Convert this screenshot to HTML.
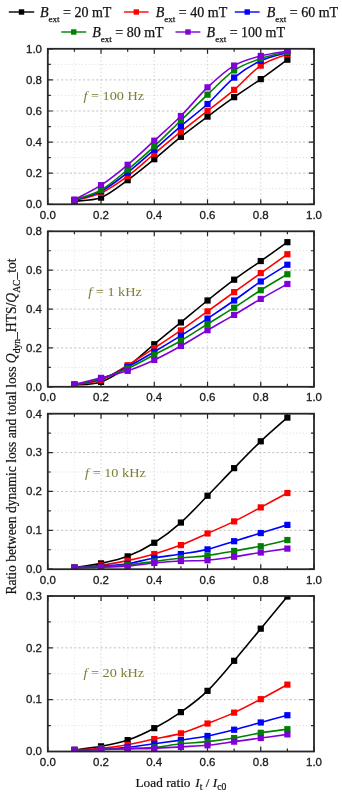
<!DOCTYPE html>
<html><head><meta charset="utf-8"><title>Ratio between dynamic loss and total loss</title>
<style>
html,body{margin:0;padding:0;background:#fff;}
body{width:342px;height:793px;overflow:hidden;}
svg{display:block;}
.gM{stroke:#b4b4b4;stroke-width:0.8;stroke-dasharray:2.2 2.2;}
.gm{stroke:#d2d2d2;stroke-width:0.7;stroke-dasharray:1.2 2.2;}
.vM{stroke:#c4c4c4;stroke-width:0.7;stroke-dasharray:1.6 2.2;}
.vm{stroke:#dadada;stroke-width:0.6;stroke-dasharray:1.2 2.2;}
.cv{fill:none;stroke-width:1.6;}
.tk{fill:none;stroke:#262626;stroke-width:1.2;}
.fr{fill:none;stroke:#262626;stroke-width:1.8;}
.yl{font-family:"Liberation Sans",Arial,sans-serif;font-size:11.5px;text-anchor:end;fill:#1a1a1a;stroke:#1a1a1a;stroke-width:0.3;}
.xl{font-family:"Liberation Sans",Arial,sans-serif;font-size:11.5px;text-anchor:middle;fill:#1a1a1a;stroke:#1a1a1a;stroke-width:0.3;}
.fl{font-family:"Liberation Serif","Times New Roman",serif;font-size:12.5px;fill:#7d7d35;}
.lg{font-family:"Liberation Serif","Times New Roman",serif;font-size:14px;fill:#111;stroke:#111;stroke-width:0.25;}
.ax{font-family:"Liberation Serif","Times New Roman",serif;font-size:13.3px;fill:#111;stroke:#111;stroke-width:0.2;}
</style></head>
<body>
<svg width="342" height="793" viewBox="0 0 342 793">
<line x1="47.8" y1="188.75" x2="314" y2="188.75" class="gm"/>
<line x1="47.8" y1="173.2" x2="314" y2="173.2" class="gM"/>
<line x1="47.8" y1="157.65" x2="314" y2="157.65" class="gm"/>
<line x1="47.8" y1="142.1" x2="314" y2="142.1" class="gM"/>
<line x1="47.8" y1="126.55" x2="314" y2="126.55" class="gm"/>
<line x1="47.8" y1="111" x2="314" y2="111" class="gM"/>
<line x1="47.8" y1="95.45" x2="314" y2="95.45" class="gm"/>
<line x1="47.8" y1="79.9" x2="314" y2="79.9" class="gM"/>
<line x1="47.8" y1="64.35" x2="314" y2="64.35" class="gm"/>
<line x1="74.42" y1="48.8" x2="74.42" y2="204.3" class="vm"/>
<line x1="101.04" y1="48.8" x2="101.04" y2="204.3" class="vM"/>
<line x1="127.66" y1="48.8" x2="127.66" y2="204.3" class="vm"/>
<line x1="154.28" y1="48.8" x2="154.28" y2="204.3" class="vM"/>
<line x1="180.9" y1="48.8" x2="180.9" y2="204.3" class="vm"/>
<line x1="207.52" y1="48.8" x2="207.52" y2="204.3" class="vM"/>
<line x1="234.14" y1="48.8" x2="234.14" y2="204.3" class="vm"/>
<line x1="260.76" y1="48.8" x2="260.76" y2="204.3" class="vM"/>
<line x1="287.38" y1="48.8" x2="287.38" y2="204.3" class="vm"/>
<text transform="translate(83.5 100.3) scale(1.14 1)" class="fl"><tspan font-style="italic">f</tspan> = 100 Hz</text>
<path d="M47.8 204.3v-5M47.8 48.8v5M74.42 204.3v-3M74.42 48.8v3M101.04 204.3v-5M101.04 48.8v5M127.66 204.3v-3M127.66 48.8v3M154.28 204.3v-5M154.28 48.8v5M180.9 204.3v-3M180.9 48.8v3M207.52 204.3v-5M207.52 48.8v5M234.14 204.3v-3M234.14 48.8v3M260.76 204.3v-5M260.76 48.8v5M287.38 204.3v-3M287.38 48.8v3M314 204.3v-5M314 48.8v5M47.8 204.3h5M314 204.3h-5M47.8 188.75h3M314 188.75h-3M47.8 173.2h5M314 173.2h-5M47.8 157.65h3M314 157.65h-3M47.8 142.1h5M314 142.1h-5M47.8 126.55h3M314 126.55h-3M47.8 111h5M314 111h-5M47.8 95.45h3M314 95.45h-3M47.8 79.9h5M314 79.9h-5M47.8 64.35h3M314 64.35h-3M47.8 48.8h5M314 48.8h-5" class="tk"/>
<clipPath id="c0"><rect x="47.8" y="48.8" width="266.2" height="155.5"/></clipPath><g clip-path="url(#c0)">
<path d="M74.42 201.19C78.86 200.59 92.17 201.11 101.04 197.61C109.91 194.11 118.79 186.6 127.66 180.2C136.53 173.8 145.41 166.44 154.28 159.21C163.15 151.97 172.03 143.91 180.9 136.81C189.77 129.71 198.65 123.21 207.52 116.6C216.39 109.99 225.27 103.41 234.14 97.16C243.01 90.91 251.89 85.37 260.76 79.12C269.63 72.88 282.94 62.92 287.38 59.69" stroke="#000000" class="cv"/>
<g fill="#000000"><rect x="71.32" y="198.09" width="6.2" height="6.2"/><rect x="97.94" y="194.51" width="6.2" height="6.2"/><rect x="124.56" y="177.1" width="6.2" height="6.2"/><rect x="151.18" y="156.11" width="6.2" height="6.2"/><rect x="177.8" y="133.71" width="6.2" height="6.2"/><rect x="204.42" y="113.5" width="6.2" height="6.2"/><rect x="231.04" y="94.06" width="6.2" height="6.2"/><rect x="257.66" y="76.02" width="6.2" height="6.2"/><rect x="284.28" y="56.59" width="6.2" height="6.2"/></g>
<path d="M74.42 200.41C78.86 199.17 92.17 196.99 101.04 192.95C109.91 188.91 118.79 182.69 127.66 176.15C136.53 169.62 145.41 161.17 154.28 153.76C163.15 146.35 172.03 138.83 180.9 131.68C189.77 124.53 198.65 117.82 207.52 110.84C216.39 103.87 225.27 97.39 234.14 89.85C243.01 82.31 251.89 71.53 260.76 65.59C269.63 59.66 282.94 56.13 287.38 54.24" stroke="#ff0000" class="cv"/>
<g fill="#ff0000"><rect x="71.32" y="197.31" width="6.2" height="6.2"/><rect x="97.94" y="189.85" width="6.2" height="6.2"/><rect x="124.56" y="173.05" width="6.2" height="6.2"/><rect x="151.18" y="150.66" width="6.2" height="6.2"/><rect x="177.8" y="128.58" width="6.2" height="6.2"/><rect x="204.42" y="107.74" width="6.2" height="6.2"/><rect x="231.04" y="86.75" width="6.2" height="6.2"/><rect x="257.66" y="62.49" width="6.2" height="6.2"/><rect x="284.28" y="51.14" width="6.2" height="6.2"/></g>
<path d="M74.42 200.1C78.86 198.62 92.17 195.83 101.04 191.24C109.91 186.65 118.79 179.5 127.66 172.58C136.53 165.66 145.41 157.47 154.28 149.72C163.15 141.97 172.03 133.7 180.9 126.08C189.77 118.46 198.65 112.09 207.52 104C216.39 95.92 225.27 84.77 234.14 77.57C243.01 70.36 251.89 64.92 260.76 60.77C269.63 56.63 282.94 54.04 287.38 52.69" stroke="#0000ff" class="cv"/>
<g fill="#0000ff"><rect x="71.32" y="197" width="6.2" height="6.2"/><rect x="97.94" y="188.14" width="6.2" height="6.2"/><rect x="124.56" y="169.48" width="6.2" height="6.2"/><rect x="151.18" y="146.62" width="6.2" height="6.2"/><rect x="177.8" y="122.98" width="6.2" height="6.2"/><rect x="204.42" y="100.9" width="6.2" height="6.2"/><rect x="231.04" y="74.47" width="6.2" height="6.2"/><rect x="257.66" y="57.67" width="6.2" height="6.2"/><rect x="284.28" y="49.59" width="6.2" height="6.2"/></g>
<path d="M74.42 199.95C78.86 198.29 92.17 195.05 101.04 189.99C109.91 184.94 118.79 176.91 127.66 169.62C136.53 162.34 145.41 154.49 154.28 146.3C163.15 138.11 172.03 129.09 180.9 120.49C189.77 111.88 198.65 103.02 207.52 94.67C216.39 86.33 225.27 76.43 234.14 70.41C243.01 64.4 251.89 61.68 260.76 58.6C269.63 55.51 282.94 53.02 287.38 51.91" stroke="#008000" class="cv"/>
<g fill="#008000"><rect x="71.32" y="196.85" width="6.2" height="6.2"/><rect x="97.94" y="186.89" width="6.2" height="6.2"/><rect x="124.56" y="166.52" width="6.2" height="6.2"/><rect x="151.18" y="143.2" width="6.2" height="6.2"/><rect x="177.8" y="117.39" width="6.2" height="6.2"/><rect x="204.42" y="91.57" width="6.2" height="6.2"/><rect x="231.04" y="67.31" width="6.2" height="6.2"/><rect x="257.66" y="55.5" width="6.2" height="6.2"/><rect x="284.28" y="48.81" width="6.2" height="6.2"/></g>
<path d="M74.42 199.64C78.86 197.22 92.17 190.98 101.04 185.17C109.91 179.37 118.79 172.22 127.66 164.8C136.53 157.39 145.41 148.84 154.28 140.7C163.15 132.56 172.03 124.87 180.9 115.98C189.77 107.09 198.65 95.76 207.52 87.36C216.39 78.97 225.27 70.83 234.14 65.59C243.01 60.36 251.89 58.36 260.76 55.95C269.63 53.54 282.94 51.94 287.38 51.13" stroke="#8000d8" class="cv"/>
<g fill="#8000d8"><rect x="71.32" y="196.54" width="6.2" height="6.2"/><rect x="97.94" y="182.07" width="6.2" height="6.2"/><rect x="124.56" y="161.7" width="6.2" height="6.2"/><rect x="151.18" y="137.6" width="6.2" height="6.2"/><rect x="177.8" y="112.88" width="6.2" height="6.2"/><rect x="204.42" y="84.26" width="6.2" height="6.2"/><rect x="231.04" y="62.49" width="6.2" height="6.2"/><rect x="257.66" y="52.85" width="6.2" height="6.2"/><rect x="284.28" y="48.03" width="6.2" height="6.2"/></g>
</g>
<rect x="47.8" y="48.8" width="266.2" height="155.5" class="fr"/>
<text x="42" y="208.1" class="yl">0.0</text>
<text x="42" y="177" class="yl">0.2</text>
<text x="42" y="145.9" class="yl">0.4</text>
<text x="42" y="114.8" class="yl">0.6</text>
<text x="42" y="83.7" class="yl">0.8</text>
<text x="42" y="52.6" class="yl">1.0</text>
<text x="47.8" y="218.9" class="xl">0.0</text>
<text x="101.04" y="218.9" class="xl">0.2</text>
<text x="154.28" y="218.9" class="xl">0.4</text>
<text x="207.52" y="218.9" class="xl">0.6</text>
<text x="260.76" y="218.9" class="xl">0.8</text>
<text x="314" y="218.9" class="xl">1.0</text>
<line x1="47.8" y1="367.36" x2="314" y2="367.36" class="gm"/>
<line x1="47.8" y1="347.93" x2="314" y2="347.93" class="gM"/>
<line x1="47.8" y1="328.49" x2="314" y2="328.49" class="gm"/>
<line x1="47.8" y1="309.05" x2="314" y2="309.05" class="gM"/>
<line x1="47.8" y1="289.61" x2="314" y2="289.61" class="gm"/>
<line x1="47.8" y1="270.18" x2="314" y2="270.18" class="gM"/>
<line x1="47.8" y1="250.74" x2="314" y2="250.74" class="gm"/>
<line x1="74.42" y1="231.3" x2="74.42" y2="386.8" class="vm"/>
<line x1="101.04" y1="231.3" x2="101.04" y2="386.8" class="vM"/>
<line x1="127.66" y1="231.3" x2="127.66" y2="386.8" class="vm"/>
<line x1="154.28" y1="231.3" x2="154.28" y2="386.8" class="vM"/>
<line x1="180.9" y1="231.3" x2="180.9" y2="386.8" class="vm"/>
<line x1="207.52" y1="231.3" x2="207.52" y2="386.8" class="vM"/>
<line x1="234.14" y1="231.3" x2="234.14" y2="386.8" class="vm"/>
<line x1="260.76" y1="231.3" x2="260.76" y2="386.8" class="vM"/>
<line x1="287.38" y1="231.3" x2="287.38" y2="386.8" class="vm"/>
<text transform="translate(88.3 295.8) scale(1.14 1)" class="fl"><tspan font-style="italic">f</tspan> = 1 kHz</text>
<path d="M47.8 386.8v-5M47.8 231.3v5M74.42 386.8v-3M74.42 231.3v3M101.04 386.8v-5M101.04 231.3v5M127.66 386.8v-3M127.66 231.3v3M154.28 386.8v-5M154.28 231.3v5M180.9 386.8v-3M180.9 231.3v3M207.52 386.8v-5M207.52 231.3v5M234.14 386.8v-3M234.14 231.3v3M260.76 386.8v-5M260.76 231.3v5M287.38 386.8v-3M287.38 231.3v3M314 386.8v-5M314 231.3v5M47.8 386.8h5M314 386.8h-5M47.8 367.36h3M314 367.36h-3M47.8 347.93h5M314 347.93h-5M47.8 328.49h3M314 328.49h-3M47.8 309.05h5M314 309.05h-5M47.8 289.61h3M314 289.61h-3M47.8 270.18h5M314 270.18h-5M47.8 250.74h3M314 250.74h-3M47.8 231.3h5M314 231.3h-5" class="tk"/>
<clipPath id="c1"><rect x="47.8" y="231.3" width="266.2" height="155.5"/></clipPath><g clip-path="url(#c1)">
<path d="M74.42 384.86C78.86 384.37 92.17 384.99 101.04 381.94C109.91 378.9 118.79 372.87 127.66 366.59C136.53 360.3 145.41 351.59 154.28 344.23C163.15 336.88 172.03 329.75 180.9 322.46C189.77 315.17 198.65 307.62 207.52 300.5C216.39 293.37 225.27 286.28 234.14 279.7C243.01 273.12 251.89 267.29 260.76 261.04C269.63 254.79 282.94 245.33 287.38 242.19" stroke="#000000" class="cv"/>
<g fill="#000000"><rect x="71.32" y="381.76" width="6.2" height="6.2"/><rect x="97.94" y="378.84" width="6.2" height="6.2"/><rect x="124.56" y="363.49" width="6.2" height="6.2"/><rect x="151.18" y="341.13" width="6.2" height="6.2"/><rect x="177.8" y="319.36" width="6.2" height="6.2"/><rect x="204.42" y="297.4" width="6.2" height="6.2"/><rect x="231.04" y="276.6" width="6.2" height="6.2"/><rect x="257.66" y="257.94" width="6.2" height="6.2"/><rect x="284.28" y="239.09" width="6.2" height="6.2"/></g>
<path d="M74.42 384.66C78.86 383.88 92.17 383.24 101.04 380C109.91 376.76 118.79 370.54 127.66 365.22C136.53 359.91 145.41 353.92 154.28 348.12C163.15 342.32 172.03 336.55 180.9 330.43C189.77 324.31 198.65 317.76 207.52 311.38C216.39 305 225.27 298.52 234.14 292.14C243.01 285.76 251.89 279.41 260.76 273.09C269.63 266.77 282.94 257.38 287.38 254.24" stroke="#ff0000" class="cv"/>
<g fill="#ff0000"><rect x="71.32" y="381.56" width="6.2" height="6.2"/><rect x="97.94" y="376.9" width="6.2" height="6.2"/><rect x="124.56" y="362.12" width="6.2" height="6.2"/><rect x="151.18" y="345.02" width="6.2" height="6.2"/><rect x="177.8" y="327.33" width="6.2" height="6.2"/><rect x="204.42" y="308.28" width="6.2" height="6.2"/><rect x="231.04" y="289.04" width="6.2" height="6.2"/><rect x="257.66" y="269.99" width="6.2" height="6.2"/><rect x="284.28" y="251.14" width="6.2" height="6.2"/></g>
<path d="M74.42 384.66C78.86 383.72 92.17 381.97 101.04 379.03C109.91 376.08 118.79 371.51 127.66 366.97C136.53 362.44 145.41 357.03 154.28 351.81C163.15 346.6 172.03 341.22 180.9 335.68C189.77 330.14 198.65 324.44 207.52 318.57C216.39 312.71 225.27 306.69 234.14 300.5C243.01 294.31 251.89 287.41 260.76 281.45C269.63 275.49 282.94 267.52 287.38 264.73" stroke="#0000ff" class="cv"/>
<g fill="#0000ff"><rect x="71.32" y="381.56" width="6.2" height="6.2"/><rect x="97.94" y="375.93" width="6.2" height="6.2"/><rect x="124.56" y="363.87" width="6.2" height="6.2"/><rect x="151.18" y="348.71" width="6.2" height="6.2"/><rect x="177.8" y="332.58" width="6.2" height="6.2"/><rect x="204.42" y="315.47" width="6.2" height="6.2"/><rect x="231.04" y="297.4" width="6.2" height="6.2"/><rect x="257.66" y="278.35" width="6.2" height="6.2"/><rect x="284.28" y="261.63" width="6.2" height="6.2"/></g>
<path d="M74.42 384.66C78.86 383.63 92.17 381.13 101.04 378.44C109.91 375.75 118.79 372.48 127.66 368.53C136.53 364.58 145.41 359.36 154.28 354.73C163.15 350.1 172.03 345.85 180.9 340.73C189.77 335.61 198.65 329.52 207.52 324.02C216.39 318.51 225.27 313.33 234.14 307.69C243.01 302.05 251.89 295.77 260.76 290.2C269.63 284.62 282.94 276.91 287.38 274.26" stroke="#008000" class="cv"/>
<g fill="#008000"><rect x="71.32" y="381.56" width="6.2" height="6.2"/><rect x="97.94" y="375.34" width="6.2" height="6.2"/><rect x="124.56" y="365.43" width="6.2" height="6.2"/><rect x="151.18" y="351.63" width="6.2" height="6.2"/><rect x="177.8" y="337.63" width="6.2" height="6.2"/><rect x="204.42" y="320.92" width="6.2" height="6.2"/><rect x="231.04" y="304.59" width="6.2" height="6.2"/><rect x="257.66" y="287.1" width="6.2" height="6.2"/><rect x="284.28" y="271.16" width="6.2" height="6.2"/></g>
<path d="M74.42 384.47C78.86 383.37 92.17 380.13 101.04 377.86C109.91 375.59 118.79 373.84 127.66 370.86C136.53 367.88 145.41 364.12 154.28 359.98C163.15 355.83 172.03 350.94 180.9 345.98C189.77 341.02 198.65 335.42 207.52 330.24C216.39 325.05 225.27 320.1 234.14 314.88C243.01 309.67 251.89 304.09 260.76 298.94C269.63 293.79 282.94 286.47 287.38 283.98" stroke="#8000d8" class="cv"/>
<g fill="#8000d8"><rect x="71.32" y="381.37" width="6.2" height="6.2"/><rect x="97.94" y="374.76" width="6.2" height="6.2"/><rect x="124.56" y="367.76" width="6.2" height="6.2"/><rect x="151.18" y="356.88" width="6.2" height="6.2"/><rect x="177.8" y="342.88" width="6.2" height="6.2"/><rect x="204.42" y="327.14" width="6.2" height="6.2"/><rect x="231.04" y="311.78" width="6.2" height="6.2"/><rect x="257.66" y="295.84" width="6.2" height="6.2"/><rect x="284.28" y="280.88" width="6.2" height="6.2"/></g>
</g>
<rect x="47.8" y="231.3" width="266.2" height="155.5" class="fr"/>
<text x="42" y="390.6" class="yl">0.0</text>
<text x="42" y="351.73" class="yl">0.2</text>
<text x="42" y="312.85" class="yl">0.4</text>
<text x="42" y="273.98" class="yl">0.6</text>
<text x="42" y="235.1" class="yl">0.8</text>
<text x="47.8" y="401.4" class="xl">0.0</text>
<text x="101.04" y="401.4" class="xl">0.2</text>
<text x="154.28" y="401.4" class="xl">0.4</text>
<text x="207.52" y="401.4" class="xl">0.6</text>
<text x="260.76" y="401.4" class="xl">0.8</text>
<text x="314" y="401.4" class="xl">1.0</text>
<line x1="47.8" y1="549.76" x2="314" y2="549.76" class="gm"/>
<line x1="47.8" y1="530.33" x2="314" y2="530.33" class="gM"/>
<line x1="47.8" y1="510.89" x2="314" y2="510.89" class="gm"/>
<line x1="47.8" y1="491.45" x2="314" y2="491.45" class="gM"/>
<line x1="47.8" y1="472.01" x2="314" y2="472.01" class="gm"/>
<line x1="47.8" y1="452.58" x2="314" y2="452.58" class="gM"/>
<line x1="47.8" y1="433.14" x2="314" y2="433.14" class="gm"/>
<line x1="74.42" y1="413.7" x2="74.42" y2="569.2" class="vm"/>
<line x1="101.04" y1="413.7" x2="101.04" y2="569.2" class="vM"/>
<line x1="127.66" y1="413.7" x2="127.66" y2="569.2" class="vm"/>
<line x1="154.28" y1="413.7" x2="154.28" y2="569.2" class="vM"/>
<line x1="180.9" y1="413.7" x2="180.9" y2="569.2" class="vm"/>
<line x1="207.52" y1="413.7" x2="207.52" y2="569.2" class="vM"/>
<line x1="234.14" y1="413.7" x2="234.14" y2="569.2" class="vm"/>
<line x1="260.76" y1="413.7" x2="260.76" y2="569.2" class="vM"/>
<line x1="287.38" y1="413.7" x2="287.38" y2="569.2" class="vm"/>
<text transform="translate(85.1 476.8) scale(1.14 1)" class="fl"><tspan font-style="italic">f</tspan> = 10 kHz</text>
<path d="M47.8 569.2v-5M47.8 413.7v5M74.42 569.2v-3M74.42 413.7v3M101.04 569.2v-5M101.04 413.7v5M127.66 569.2v-3M127.66 413.7v3M154.28 569.2v-5M154.28 413.7v5M180.9 569.2v-3M180.9 413.7v3M207.52 569.2v-5M207.52 413.7v5M234.14 569.2v-3M234.14 413.7v3M260.76 569.2v-5M260.76 413.7v5M287.38 569.2v-3M287.38 413.7v3M314 569.2v-5M314 413.7v5M47.8 569.2h5M314 569.2h-5M47.8 549.76h3M314 549.76h-3M47.8 530.33h5M314 530.33h-5M47.8 510.89h3M314 510.89h-3M47.8 491.45h5M314 491.45h-5M47.8 472.01h3M314 472.01h-3M47.8 452.58h5M314 452.58h-5M47.8 433.14h3M314 433.14h-3M47.8 413.7h5M314 413.7h-5" class="tk"/>
<clipPath id="c2"><rect x="47.8" y="413.7" width="266.2" height="155.5"/></clipPath><g clip-path="url(#c2)">
<path d="M74.42 567.65C78.86 566.93 92.17 565.25 101.04 563.37C109.91 561.49 118.79 559.81 127.66 556.37C136.53 552.94 145.41 548.4 154.28 542.77C163.15 537.13 172.03 530.39 180.9 522.55C189.77 514.71 198.65 504.8 207.52 495.73C216.39 486.66 225.27 477.2 234.14 468.13C243.01 459.05 251.89 449.72 260.76 441.3C269.63 432.88 282.94 421.54 287.38 417.59" stroke="#000000" class="cv"/>
<g fill="#000000"><rect x="71.32" y="564.55" width="6.2" height="6.2"/><rect x="97.94" y="560.27" width="6.2" height="6.2"/><rect x="124.56" y="553.27" width="6.2" height="6.2"/><rect x="151.18" y="539.67" width="6.2" height="6.2"/><rect x="177.8" y="519.45" width="6.2" height="6.2"/><rect x="204.42" y="492.63" width="6.2" height="6.2"/><rect x="231.04" y="465.03" width="6.2" height="6.2"/><rect x="257.66" y="438.2" width="6.2" height="6.2"/><rect x="284.28" y="414.49" width="6.2" height="6.2"/></g>
<path d="M74.42 567.65C78.86 567.26 92.17 566.48 101.04 565.31C109.91 564.15 118.79 562.53 127.66 560.65C136.53 558.77 145.41 556.63 154.28 554.04C163.15 551.45 172.03 548.53 180.9 545.1C189.77 541.66 198.65 537.39 207.52 533.44C216.39 529.48 225.27 525.72 234.14 521.38C243.01 517.04 251.89 512.12 260.76 507.39C269.63 502.66 282.94 495.4 287.38 493.01" stroke="#ff0000" class="cv"/>
<g fill="#ff0000"><rect x="71.32" y="564.55" width="6.2" height="6.2"/><rect x="97.94" y="562.21" width="6.2" height="6.2"/><rect x="124.56" y="557.55" width="6.2" height="6.2"/><rect x="151.18" y="550.94" width="6.2" height="6.2"/><rect x="177.8" y="542" width="6.2" height="6.2"/><rect x="204.42" y="530.34" width="6.2" height="6.2"/><rect x="231.04" y="518.28" width="6.2" height="6.2"/><rect x="257.66" y="504.29" width="6.2" height="6.2"/><rect x="284.28" y="489.91" width="6.2" height="6.2"/></g>
<path d="M74.42 567.65C78.86 567.39 92.17 566.74 101.04 566.09C109.91 565.44 118.79 565.12 127.66 563.76C136.53 562.4 145.41 559.55 154.28 557.93C163.15 556.31 172.03 555.46 180.9 554.04C189.77 552.61 198.65 551.51 207.52 549.37C216.39 547.24 225.27 543.93 234.14 541.21C243.01 538.49 251.89 535.77 260.76 533.05C269.63 530.33 282.94 526.24 287.38 524.88" stroke="#0000ff" class="cv"/>
<g fill="#0000ff"><rect x="71.32" y="564.55" width="6.2" height="6.2"/><rect x="97.94" y="562.99" width="6.2" height="6.2"/><rect x="124.56" y="560.66" width="6.2" height="6.2"/><rect x="151.18" y="554.83" width="6.2" height="6.2"/><rect x="177.8" y="550.94" width="6.2" height="6.2"/><rect x="204.42" y="546.27" width="6.2" height="6.2"/><rect x="231.04" y="538.11" width="6.2" height="6.2"/><rect x="257.66" y="529.95" width="6.2" height="6.2"/><rect x="284.28" y="521.78" width="6.2" height="6.2"/></g>
<path d="M74.42 567.65C78.86 567.52 92.17 567.32 101.04 566.87C109.91 566.41 118.79 565.83 127.66 564.92C136.53 564.02 145.41 562.59 154.28 561.43C163.15 560.26 172.03 558.9 180.9 557.93C189.77 556.95 198.65 556.76 207.52 555.59C216.39 554.43 225.27 552.48 234.14 550.93C243.01 549.37 251.89 548.08 260.76 546.26C269.63 544.45 282.94 541.08 287.38 540.04" stroke="#008000" class="cv"/>
<g fill="#008000"><rect x="71.32" y="564.55" width="6.2" height="6.2"/><rect x="97.94" y="563.77" width="6.2" height="6.2"/><rect x="124.56" y="561.82" width="6.2" height="6.2"/><rect x="151.18" y="558.33" width="6.2" height="6.2"/><rect x="177.8" y="554.83" width="6.2" height="6.2"/><rect x="204.42" y="552.49" width="6.2" height="6.2"/><rect x="231.04" y="547.83" width="6.2" height="6.2"/><rect x="257.66" y="543.16" width="6.2" height="6.2"/><rect x="284.28" y="536.94" width="6.2" height="6.2"/></g>
<path d="M74.42 567.65C78.86 567.58 92.17 567.52 101.04 567.26C109.91 567 118.79 566.8 127.66 566.09C136.53 565.38 145.41 563.82 154.28 562.98C163.15 562.14 172.03 561.49 180.9 561.04C189.77 560.58 198.65 560.97 207.52 560.26C216.39 559.55 225.27 558.06 234.14 556.76C243.01 555.46 251.89 553.84 260.76 552.48C269.63 551.12 282.94 549.24 287.38 548.6" stroke="#8000d8" class="cv"/>
<g fill="#8000d8"><rect x="71.32" y="564.55" width="6.2" height="6.2"/><rect x="97.94" y="564.16" width="6.2" height="6.2"/><rect x="124.56" y="562.99" width="6.2" height="6.2"/><rect x="151.18" y="559.88" width="6.2" height="6.2"/><rect x="177.8" y="557.94" width="6.2" height="6.2"/><rect x="204.42" y="557.16" width="6.2" height="6.2"/><rect x="231.04" y="553.66" width="6.2" height="6.2"/><rect x="257.66" y="549.38" width="6.2" height="6.2"/><rect x="284.28" y="545.5" width="6.2" height="6.2"/></g>
</g>
<rect x="47.8" y="413.7" width="266.2" height="155.5" class="fr"/>
<text x="42" y="573" class="yl">0.0</text>
<text x="42" y="534.12" class="yl">0.1</text>
<text x="42" y="495.25" class="yl">0.2</text>
<text x="42" y="456.38" class="yl">0.3</text>
<text x="42" y="417.5" class="yl">0.4</text>
<text x="47.8" y="583.8" class="xl">0.0</text>
<text x="101.04" y="583.8" class="xl">0.2</text>
<text x="154.28" y="583.8" class="xl">0.4</text>
<text x="207.52" y="583.8" class="xl">0.6</text>
<text x="260.76" y="583.8" class="xl">0.8</text>
<text x="314" y="583.8" class="xl">1.0</text>
<line x1="47.8" y1="725.58" x2="314" y2="725.58" class="gm"/>
<line x1="47.8" y1="699.67" x2="314" y2="699.67" class="gM"/>
<line x1="47.8" y1="673.75" x2="314" y2="673.75" class="gm"/>
<line x1="47.8" y1="647.83" x2="314" y2="647.83" class="gM"/>
<line x1="47.8" y1="621.92" x2="314" y2="621.92" class="gm"/>
<line x1="74.42" y1="596" x2="74.42" y2="751.5" class="vm"/>
<line x1="101.04" y1="596" x2="101.04" y2="751.5" class="vM"/>
<line x1="127.66" y1="596" x2="127.66" y2="751.5" class="vm"/>
<line x1="154.28" y1="596" x2="154.28" y2="751.5" class="vM"/>
<line x1="180.9" y1="596" x2="180.9" y2="751.5" class="vm"/>
<line x1="207.52" y1="596" x2="207.52" y2="751.5" class="vM"/>
<line x1="234.14" y1="596" x2="234.14" y2="751.5" class="vm"/>
<line x1="260.76" y1="596" x2="260.76" y2="751.5" class="vM"/>
<line x1="287.38" y1="596" x2="287.38" y2="751.5" class="vm"/>
<text transform="translate(83.5 676.5) scale(1.14 1)" class="fl"><tspan font-style="italic">f</tspan> = 20 kHz</text>
<path d="M47.8 751.5v-5M47.8 596v5M74.42 751.5v-3M74.42 596v3M101.04 751.5v-5M101.04 596v5M127.66 751.5v-3M127.66 596v3M154.28 751.5v-5M154.28 596v5M180.9 751.5v-3M180.9 596v3M207.52 751.5v-5M207.52 596v5M234.14 751.5v-3M234.14 596v3M260.76 751.5v-5M260.76 596v5M287.38 751.5v-3M287.38 596v3M314 751.5v-5M314 596v5M47.8 751.5h5M314 751.5h-5M47.8 725.58h3M314 725.58h-3M47.8 699.67h5M314 699.67h-5M47.8 673.75h3M314 673.75h-3M47.8 647.83h5M314 647.83h-5M47.8 621.92h3M314 621.92h-3M47.8 596h5M314 596h-5" class="tk"/>
<clipPath id="c3"><rect x="47.8" y="596" width="266.2" height="155.5"/></clipPath><g clip-path="url(#c3)">
<path d="M74.42 749.95C78.86 749.34 92.17 747.96 101.04 746.32C109.91 744.68 118.79 743.12 127.66 740.1C136.53 737.07 145.41 732.84 154.28 728.17C163.15 723.51 172.03 718.33 180.9 712.11C189.77 705.89 198.65 699.41 207.52 690.86C216.39 682.3 225.27 671.16 234.14 660.79C243.01 650.42 251.89 639.37 260.76 628.65C269.63 617.94 282.94 601.87 287.38 596.52" stroke="#000000" class="cv"/>
<g fill="#000000"><rect x="71.32" y="746.85" width="6.2" height="6.2"/><rect x="97.94" y="743.22" width="6.2" height="6.2"/><rect x="124.56" y="737" width="6.2" height="6.2"/><rect x="151.18" y="725.07" width="6.2" height="6.2"/><rect x="177.8" y="709.01" width="6.2" height="6.2"/><rect x="204.42" y="687.75" width="6.2" height="6.2"/><rect x="231.04" y="657.69" width="6.2" height="6.2"/><rect x="257.66" y="625.55" width="6.2" height="6.2"/><rect x="284.28" y="593.42" width="6.2" height="6.2"/></g>
<path d="M74.42 749.95C78.86 749.69 92.17 749.25 101.04 748.39C109.91 747.53 118.79 746.32 127.66 744.76C136.53 743.21 145.41 740.96 154.28 739.06C163.15 737.16 172.03 735.95 180.9 733.36C189.77 730.77 198.65 726.97 207.52 723.51C216.39 720.05 225.27 716.69 234.14 712.62C243.01 708.56 251.89 703.81 260.76 699.15C269.63 694.48 282.94 687.05 287.38 684.63" stroke="#ff0000" class="cv"/>
<g fill="#ff0000"><rect x="71.32" y="746.85" width="6.2" height="6.2"/><rect x="97.94" y="745.29" width="6.2" height="6.2"/><rect x="124.56" y="741.66" width="6.2" height="6.2"/><rect x="151.18" y="735.96" width="6.2" height="6.2"/><rect x="177.8" y="730.26" width="6.2" height="6.2"/><rect x="204.42" y="720.41" width="6.2" height="6.2"/><rect x="231.04" y="709.52" width="6.2" height="6.2"/><rect x="257.66" y="696.05" width="6.2" height="6.2"/><rect x="284.28" y="681.53" width="6.2" height="6.2"/></g>
<path d="M74.42 749.95C78.86 749.86 92.17 749.86 101.04 749.43C109.91 748.99 118.79 748.3 127.66 747.35C136.53 746.4 145.41 744.93 154.28 743.73C163.15 742.52 172.03 741.39 180.9 740.1C189.77 738.8 198.65 737.68 207.52 735.95C216.39 734.22 225.27 731.98 234.14 729.73C243.01 727.48 251.89 724.89 260.76 722.47C269.63 720.05 282.94 716.43 287.38 715.22" stroke="#0000ff" class="cv"/>
<g fill="#0000ff"><rect x="71.32" y="746.85" width="6.2" height="6.2"/><rect x="97.94" y="746.33" width="6.2" height="6.2"/><rect x="124.56" y="744.25" width="6.2" height="6.2"/><rect x="151.18" y="740.62" width="6.2" height="6.2"/><rect x="177.8" y="737" width="6.2" height="6.2"/><rect x="204.42" y="732.85" width="6.2" height="6.2"/><rect x="231.04" y="726.63" width="6.2" height="6.2"/><rect x="257.66" y="719.37" width="6.2" height="6.2"/><rect x="284.28" y="712.12" width="6.2" height="6.2"/></g>
<path d="M74.42 749.95C78.86 749.86 92.17 749.69 101.04 749.43C109.91 749.17 118.79 748.74 127.66 748.39C136.53 748.04 145.41 748.13 154.28 747.35C163.15 746.58 172.03 744.68 180.9 743.73C189.77 742.77 198.65 742.6 207.52 741.65C216.39 740.7 225.27 739.49 234.14 738.02C243.01 736.55 251.89 734.31 260.76 732.84C269.63 731.37 282.94 729.82 287.38 729.21" stroke="#008000" class="cv"/>
<g fill="#008000"><rect x="71.32" y="746.85" width="6.2" height="6.2"/><rect x="97.94" y="746.33" width="6.2" height="6.2"/><rect x="124.56" y="745.29" width="6.2" height="6.2"/><rect x="151.18" y="744.25" width="6.2" height="6.2"/><rect x="177.8" y="740.62" width="6.2" height="6.2"/><rect x="204.42" y="738.55" width="6.2" height="6.2"/><rect x="231.04" y="734.92" width="6.2" height="6.2"/><rect x="257.66" y="729.74" width="6.2" height="6.2"/><rect x="284.28" y="726.11" width="6.2" height="6.2"/></g>
<path d="M74.42 749.95C78.86 749.86 92.17 749.6 101.04 749.43C109.91 749.25 118.79 749.08 127.66 748.91C136.53 748.74 145.41 748.74 154.28 748.39C163.15 748.04 172.03 747.35 180.9 746.84C189.77 746.32 198.65 746.14 207.52 745.28C216.39 744.42 225.27 742.86 234.14 741.65C243.01 740.44 251.89 739.23 260.76 738.02C269.63 736.81 282.94 735 287.38 734.39" stroke="#8000d8" class="cv"/>
<g fill="#8000d8"><rect x="71.32" y="746.85" width="6.2" height="6.2"/><rect x="97.94" y="746.33" width="6.2" height="6.2"/><rect x="124.56" y="745.81" width="6.2" height="6.2"/><rect x="151.18" y="745.29" width="6.2" height="6.2"/><rect x="177.8" y="743.74" width="6.2" height="6.2"/><rect x="204.42" y="742.18" width="6.2" height="6.2"/><rect x="231.04" y="738.55" width="6.2" height="6.2"/><rect x="257.66" y="734.92" width="6.2" height="6.2"/><rect x="284.28" y="731.29" width="6.2" height="6.2"/></g>
</g>
<rect x="47.8" y="596" width="266.2" height="155.5" class="fr"/>
<text x="42" y="755.3" class="yl">0.0</text>
<text x="42" y="703.47" class="yl">0.1</text>
<text x="42" y="651.63" class="yl">0.2</text>
<text x="42" y="599.8" class="yl">0.3</text>
<text x="47.8" y="766.1" class="xl">0.0</text>
<text x="101.04" y="766.1" class="xl">0.2</text>
<text x="154.28" y="766.1" class="xl">0.4</text>
<text x="207.52" y="766.1" class="xl">0.6</text>
<text x="260.76" y="766.1" class="xl">0.8</text>
<text x="314" y="766.1" class="xl">1.0</text>
<line x1="8.8" y1="12" x2="34.2" y2="12" stroke="#000000" stroke-width="1.4"/>
<rect x="18.8" y="9.3" width="5.4" height="5.4" fill="#000000"/>
<text x="40" y="17.3" class="lg"><tspan font-style="italic">B</tspan><tspan dy="4.2" font-size="9">ext</tspan><tspan dy="-4.2"> = 20 mT</tspan></text>
<line x1="124" y1="12" x2="148.6" y2="12" stroke="#ff0000" stroke-width="1.4"/>
<rect x="133.6" y="9.3" width="5.4" height="5.4" fill="#ff0000"/>
<text x="155.8" y="17.3" class="lg"><tspan font-style="italic">B</tspan><tspan dy="4.2" font-size="9">ext</tspan><tspan dy="-4.2"> = 40 mT</tspan></text>
<line x1="234.8" y1="12" x2="259.6" y2="12" stroke="#0000ff" stroke-width="1.4"/>
<rect x="244.5" y="9.3" width="5.4" height="5.4" fill="#0000ff"/>
<text x="266.7" y="17.3" class="lg"><tspan font-style="italic">B</tspan><tspan dy="4.2" font-size="9">ext</tspan><tspan dy="-4.2"> = 60 mT</tspan></text>
<line x1="61.2" y1="32" x2="86.3" y2="32" stroke="#008000" stroke-width="1.4"/>
<rect x="71.05" y="29.3" width="5.4" height="5.4" fill="#008000"/>
<text x="92.2" y="37.3" class="lg"><tspan font-style="italic">B</tspan><tspan dy="4.2" font-size="9">ext</tspan><tspan dy="-4.2"> = 80 mT</tspan></text>
<line x1="175.5" y1="32" x2="200.4" y2="32" stroke="#8000d8" stroke-width="1.4"/>
<rect x="185.25" y="29.3" width="5.4" height="5.4" fill="#8000d8"/>
<text x="206.6" y="37.3" class="lg"><tspan font-style="italic">B</tspan><tspan dy="4.2" font-size="9">ext</tspan><tspan dy="-4.2"> = 100 mT</tspan></text>
<text x="135.5" y="786.8" class="ax">Load ratio <tspan dx="1.5" font-style="italic">I</tspan><tspan dy="3.4" font-size="9.6">t</tspan><tspan dy="-3.4"> / </tspan><tspan font-style="italic">I</tspan><tspan dy="3.4" font-size="9.6">c0</tspan></text>
<text transform="translate(15.8 594.6) rotate(-90)" class="ax" style="font-size:13.6px">Ratio between dynamic loss and total loss <tspan font-style="italic">Q</tspan><tspan dy="4.2" font-size="9.6">dyn</tspan><tspan dy="-4.2">_HTS/</tspan><tspan font-style="italic">Q</tspan><tspan dy="4.2" font-size="9.6">AC</tspan><tspan dy="-4.2">_tot</tspan></text>
</svg>
</body></html>
